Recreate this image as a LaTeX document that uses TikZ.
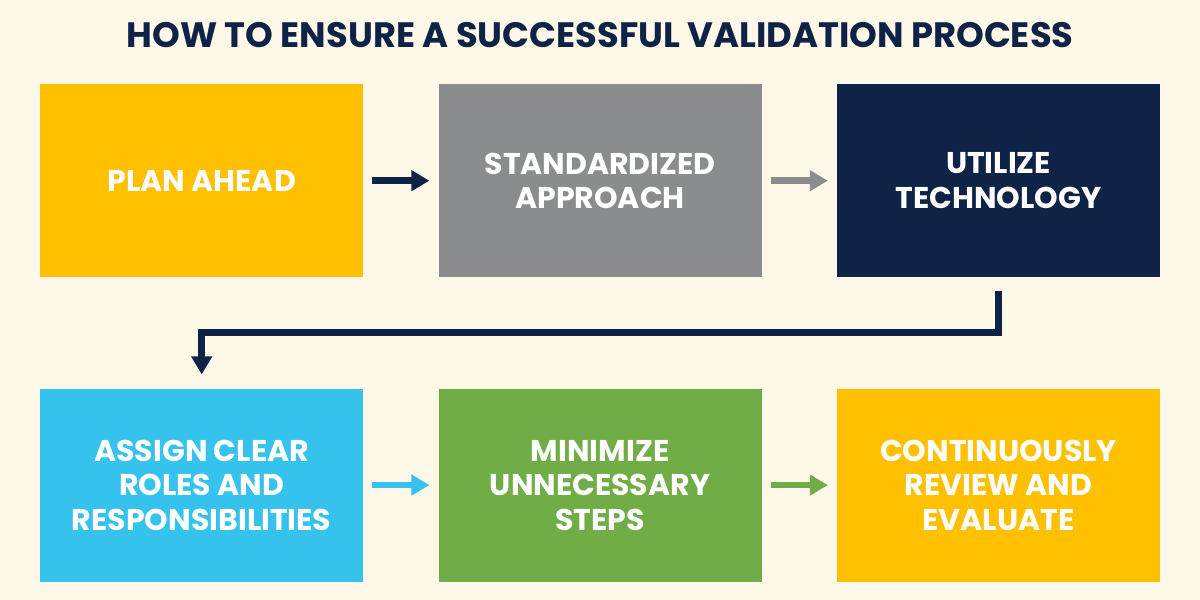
\documentclass[tikz,border=0pt]{standalone}
\usepackage{fontspec}
\setmainfont{Poppins}
\usepackage{xcolor}
\definecolor{bgcream}{HTML}{FDF8E8}
\definecolor{navy}{HTML}{0F2347}
\definecolor{gold}{HTML}{FFC000}
\definecolor{slate}{HTML}{8A8C8E}
\definecolor{sky}{HTML}{35C3EE}
\definecolor{leaf}{HTML}{70AD47}
\usetikzlibrary{arrows.meta,positioning}
\tikzset{
  stepbox/.style={rectangle,inner sep=0pt,
    minimum width=323pt,minimum height=193pt,
    align=center,text=white,
    font=\fontsize{30}{34.5}\selectfont\bfseries},
  arr/.style={line width=6.5pt,line join=miter,
    -{Triangle[length=18pt,width=20pt]},
    shorten <=9pt,shorten >=9pt},
}

\begin{document}
\begin{tikzpicture}[node distance=75pt]
  \fill[bgcream] (0,0) rectangle (1200pt,-600pt);
  \node (title) at (600pt,-35pt)
    [text=navy,font=\fontsize{35.3}{40}\selectfont\bfseries]
    {HOW TO ENSURE A SUCCESSFUL VALIDATION PROCESS};
  \node (plan) [stepbox,fill=gold,anchor=north west] at (40pt,-84pt)
    {PLAN AHEAD};
  \node (std) [stepbox,fill=slate,right=of plan]
    {STANDARDIZED\\APPROACH};
  \node (tech) [stepbox,fill=navy,right=of std]
    {UTILIZE\\TECHNOLOGY};
  \node (roles) [stepbox,fill=sky,below=111pt of plan]
    {ASSIGN CLEAR\\ROLES AND\\RESPONSIBILITIES};
  \node (steps) [stepbox,fill=leaf,right=of roles]
    {MINIMIZE\\UNNECESSARY\\STEPS};
  \node (review) [stepbox,fill=gold,right=of steps]
    {CONTINUOUSLY\\REVIEW AND\\EVALUATE};
  \draw[arr,navy] (plan) -- (std);
  \draw[arr,slate] (std) -- (tech);
  \draw[arr,navy,shorten <=14pt,shorten >=14pt]
    (tech.south) -- ++(0,-55pt) -| (roles.north);
  \draw[arr,sky] (roles) -- (steps);
  \draw[arr,leaf] (steps) -- (review);
\end{tikzpicture}
\end{document}
